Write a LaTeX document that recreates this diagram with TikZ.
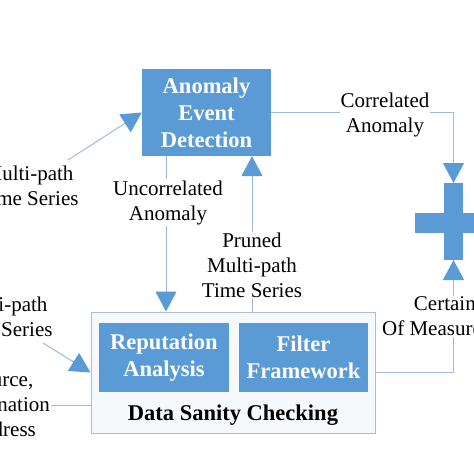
\documentclass[tikz,border=0pt]{standalone}
\usepackage{fontspec}
\setmainfont{Liberation Serif}
\usetikzlibrary{arrows.meta}
\definecolor{boxblue}{RGB}{91,155,213}
\definecolor{linkblue}{RGB}{157,187,220}
\definecolor{frameblue}{RGB}{170,190,212}
\definecolor{paleblue}{RGB}{246,249,252}

\tikzset{
  bluebox/.style={fill=boxblue, text=white, align=center, inner sep=0pt,
    font=\fontsize{22.5}{27}\selectfont\bfseries},
  lbl/.style={fill=white, align=center, inner sep=1pt,
    font=\fontsize{21}{25}\selectfont},
  link/.style={draw=linkblue, line width=1pt},
  flow/.style={link, -{Triangle[width=21pt,length=20pt,color=boxblue]}},
}

\begin{document}
\begin{tikzpicture}[x=1pt,y=-1pt]
    \useasboundingbox (0,0) rectangle (474,474);

    % Blocks
    \node[bluebox, minimum width=129pt, minimum height=87pt] (aed) at (206.5,112.5)
        {Anomaly\\Event\\Detection};
    \node[draw=frameblue, fill=paleblue, line width=1pt, minimum width=284pt,
        minimum height=121pt, inner sep=0pt] (dsc) at (233,372.5) {};
    \node[bluebox, minimum width=130pt, minimum height=69pt] (rep) at (164,357.5)
        {Reputation\\Analysis};
    \node[bluebox, minimum width=129pt, minimum height=69pt] (fil) at (303.5,357.5)
        {Filter\\Framework};
    \node[font=\fontsize{22.5}{27}\selectfont\bfseries] (dsclbl) at (233,415)
        {Data Sanity Checking};

    % Plus sign
    \fill[boxblue] (444,183) rectangle (463,260);
    \fill[boxblue] (415,213) rectangle (492,233);
    \coordinate (plustop) at (453.5,183);
    \coordinate (plusbot) at (453.5,260);

    % Connectors
    \draw[flow] (aed.east) -| (plustop);
    \draw[flow] ([xshift=-40.5pt]aed.south) -- ([xshift=-40.5pt]aed.south |- dsc.north);
    \draw[flow] ([xshift=19pt]dsc.north) -- ([xshift=19pt]dsc.north |- aed.south);
    \draw[flow] (dsc.east) -| (plusbot);

    \coordinate (mts1) at (68,160);
    \draw[flow] (mts1) -- (aed.west);
    \coordinate (mts2) at (43,343);
    \draw[flow] (mts2) -- (dsc.west);

    % Labels
    \node[lbl] (corr) at (385,114.5) {Correlated\\Anomaly};
    \node[lbl] (uncorr) at (168,202.5) {Uncorrelated\\Anomaly};
    \node[lbl] (pruned) at (252,265) {Pruned\\Multi-path\\Time Series};
    \node[lbl] (cert) at (453,316.5) {Certainty\\Of Measurement};
    \node[lbl] (ts1) at (28.5,185.5) {Multi-path\\Time Series};
    \node[lbl] (ts2) at (2.5,316.5) {Multi-path\\Time Series};
    \node[lbl] (sda) at (1.5,405) {Source,\\Destination\\Address};
    \draw[link] (sda.east) -- (sda.east -| dsc.west);
\end{tikzpicture}
\end{document}
